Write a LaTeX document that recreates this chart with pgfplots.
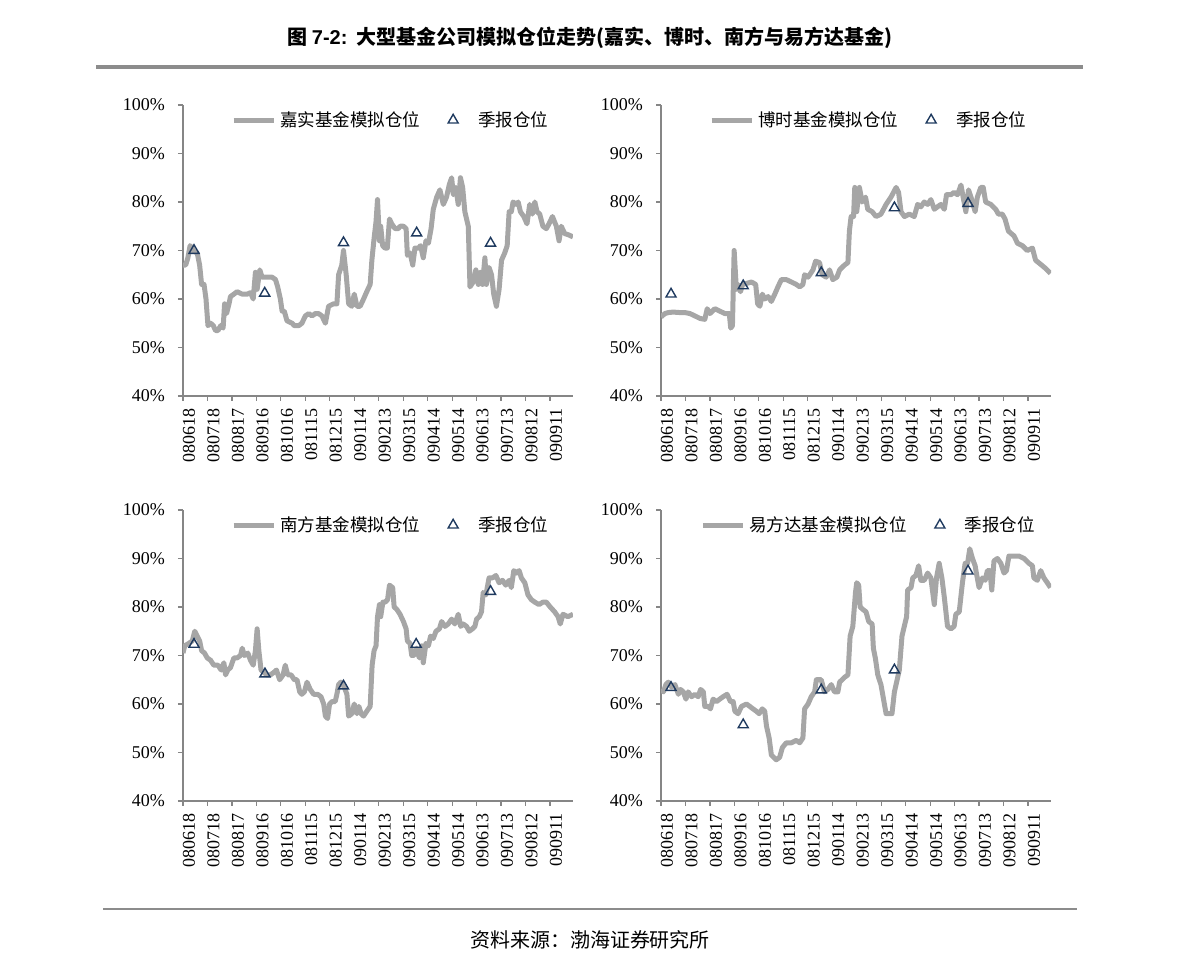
\documentclass[border=0pt]{standalone}
\usepackage{fontspec}
\setmainfont{Liberation Serif}
\newfontfamily\cjk{Noto Sans CJK SC}
\newfontfamily\hei{Liberation Sans}
\usepackage{pgfplots}
\pgfplotsset{compat=1.18}
\definecolor{lg}{HTML}{A6A6A6}
\definecolor{navy}{HTML}{1F3A5F}
\definecolor{ax}{HTML}{868686}
\definecolor{rule}{HTML}{8C8C8C}
\pgfplotsset{
 panel/.style={
  scale only axis, width=195pt, height=145.5pt,
  xmin=0, xmax=15.94, ymin=40, ymax=100,
  axis x line*=bottom, axis y line*=left,
  axis line style={draw=ax, line width=0.6pt},
  tick style={draw=ax, line width=0.6pt},
  tick align=outside, major tick length=2.5pt,
  xtick={0,...,15},
  xticklabels={080618,080718,080817,080916,081016,081115,081215,090114,090213,090315,090414,090514,090613,090713,090812,090911},
  xticklabel style={rotate=90, anchor=east, yshift=-3pt, font=\fontsize{9}{10}\selectfont},
  ytick={40,50,60,70,80,90,100},
  yticklabels={40\%,50\%,60\%,70\%,80\%,90\%,100\%},
  yticklabel style={xshift=-3pt, font=\fontsize{9}{10}\selectfont},
  legend style={draw=none, fill=none, at={(0.535,0.948)}, anchor=center,
    font=\cjk\fontsize{8.75}{10}\selectfont,
    /tikz/every even column/.append style={column sep=6pt}},
  legend columns=2,
  legend cell align=left,
 },
 fund/.style={lg, line width=2.5pt, line join=round,
   legend image code/.code={\draw[##1] (0pt,0pt) -- (20pt,0pt);}},
 quarter/.style={only marks, mark=triangle, mark size=2.9pt,
   mark options={draw=navy, fill=white, line width=0.7pt},
   legend image code/.code={\path[draw=none,fill=none] (0pt,-2pt) rectangle (19pt,2pt);
     \draw[##1] plot coordinates {(8.5pt,0pt)};}},
}
\begin{document}
\begin{tikzpicture}
\useasboundingbox (0,0) rectangle (595.5pt,486.5pt);
\node at (295pt,467.5pt) {\cjk\bfseries\fontsize{10}{12}\selectfont 图 {\hei\bfseries 7-2:}\ \ 大型基金公司模拟仓位走势(嘉实、博时、南方与易方达基金)};
\draw[rule, line width=1.8pt] (48pt,453pt) -- (541.5pt,453pt);
\draw[rule, line width=1.2pt] (51.5pt,32pt) -- (538.5pt,32pt);
\node at (295pt,16.5pt) {\cjk\fontsize{10}{12}\selectfont 资料来源：渤海证券研究所};

% Panel 1
\begin{axis}[panel, at={(91.5pt,288.5pt)}, anchor=south west]
\addplot[fund] table {
0 67
0.11 67
0.20 68.5
0.29 71
0.38 70.5
0.45 69.8
0.58 69.5
0.68 67
0.76 63
0.86 63
0.94 60
1.02 54.5
1.13 55
1.24 54.5
1.33 53.5
1.43 53.5
1.54 54.5
1.64 54
1.70 59
1.78 57
1.88 59
1.94 60.5
2.08 61
2.21 61.5
2.42 61
2.62 61
2.76 61.3
2.87 60
2.96 65.5
3.03 62
3.14 66
3.23 64.5
3.44 64.5
3.64 64.5
3.78 64
3.87 62.5
3.98 60
4.05 57.5
4.14 57.5
4.25 55.5
4.46 55
4.55 54.5
4.73 54.5
4.86 55
5.00 56.5
5.14 57
5.27 56.5
5.41 57
5.54 57
5.68 56.5
5.82 55
5.95 58.5
6.15 59
6.29 59
6.36 65
6.49 67
6.56 70
6.67 65
6.77 59
6.90 58.5
7.00 61
7.11 58.5
7.24 58.5
7.38 60
7.51 61.5
7.65 63
7.72 68
7.81 72.5
7.89 76
7.95 80.5
8.03 72
8.08 75
8.16 71
8.26 70.5
8.35 70.5
8.44 76.5
8.53 75.5
8.67 74.5
8.80 74.5
8.87 75
9.01 75
9.12 74.5
9.17 69
9.28 69.5
9.39 67
9.48 70.5
9.62 70.5
9.71 71
9.82 68.5
9.93 72
10.03 71.5
10.14 74.5
10.23 78.5
10.37 81
10.50 82.5
10.64 79.5
10.77 81
10.88 83.5
10.98 85
11.05 81.5
11.15 83
11.25 79.5
11.34 85
11.43 83
11.52 78
11.66 75
11.73 62.5
11.86 63.5
11.97 66
12.07 63
12.16 65.5
12.24 63
12.34 68.5
12.40 63
12.51 66.5
12.61 65
12.70 61
12.81 58.5
12.92 62
13.02 68
13.15 69.5
13.25 71
13.33 78
13.42 78
13.49 80
13.63 79.5
13.70 80
13.79 78
13.93 77
14.06 75.5
14.17 79.5
14.28 77.5
14.38 80
14.47 78
14.58 77.5
14.71 75
14.85 74.5
14.96 75.5
15.10 77
15.26 75
15.37 72
15.46 75
15.60 73.5
15.77 73.2
15.94 72.8
};
\addlegendentry{嘉实基金模拟仓位}
\addplot[quarter] table {
0.45 70.0
3.34 61.2
6.56 71.6
9.55 73.6
12.57 71.5
};
\addlegendentry{季报仓位}
\end{axis}

% Panel 2
\begin{axis}[panel, at={(330.5pt,288.5pt)}, anchor=south west]
\addplot[fund] table {
0 56.3
0.16 57
0.30 57.2
0.50 57.3
0.77 57.2
0.98 57.2
1.18 57
1.39 56.5
1.59 56
1.79 55.8
1.89 58
2.00 57
2.20 58
2.40 57.5
2.61 57
2.79 57
2.85 54
2.92 54.5
2.99 70
3.08 62
3.15 63
3.25 61.5
3.33 63
3.49 63.2
3.70 63.5
3.87 63
3.95 59
4.04 58.5
4.14 61
4.24 60
4.38 60.5
4.51 59.5
4.65 61
4.78 62.5
4.92 64
5.12 64
5.33 63.5
5.53 63
5.67 62.5
5.80 63
5.87 65
6.01 64.5
6.21 66
6.32 67.8
6.48 67.5
6.59 65
6.75 64.5
6.89 66
7.02 64
7.19 64.5
7.30 66
7.50 67
7.64 67.5
7.70 74
7.77 77
7.87 77
7.92 83
8.00 78
8.11 83
8.22 80
8.36 81
8.45 78.5
8.63 78
8.79 77
8.99 77.5
9.20 79.5
9.40 81
9.61 83
9.71 82
9.81 78
9.95 77
10.15 77.5
10.35 77
10.49 79.5
10.62 79
10.76 80
10.90 79.5
11.03 80.5
11.17 78.5
11.30 79
11.44 79.5
11.58 78.5
11.67 81.5
11.85 81.5
11.98 82
12.12 81.5
12.26 83.5
12.35 81
12.46 78
12.57 82.5
12.70 80.5
12.84 78
12.93 81
13.07 83
13.17 83
13.27 80
13.48 79.5
13.68 78.5
13.79 77.5
13.95 77.5
14.06 76.5
14.20 74
14.43 73
14.57 71.5
14.77 71
14.97 70
15.18 70.5
15.31 68
15.48 67.3
15.72 66.3
15.92 65.3
};
\addlegendentry{博时基金模拟仓位}
\addplot[quarter] table {
0.41 61.0
3.36 62.7
6.55 65.4
9.54 78.8
12.55 79.7
};
\addlegendentry{季报仓位}
\end{axis}

% Panel 3
\begin{axis}[panel, at={(91.5pt,86pt)}, anchor=south west]
\addplot[fund] table {
0 70.5
0.07 72
0.24 72.5
0.38 73
0.48 75
0.58 74
0.68 73
0.76 71
0.88 70.5
0.99 69.5
1.13 69
1.26 68
1.43 68
1.56 67
1.67 68.5
1.74 66
1.83 67
1.94 67.5
2.08 69.5
2.21 69.5
2.35 70
2.42 71.5
2.51 70
2.65 70.5
2.76 69
2.87 68
2.96 71
3.03 75.5
3.10 71
3.19 67
3.30 66.5
3.44 66
3.57 66
3.71 66.5
3.82 67
3.95 65
4.09 66
4.18 68
4.28 66
4.42 66
4.55 65
4.66 65
4.77 62.5
4.86 62
4.96 62.5
5.07 64.5
5.20 63
5.34 62
5.50 62
5.64 61.5
5.75 60
5.82 57.5
5.91 57
5.99 60
6.09 60.5
6.22 60.5
6.29 62
6.36 64
6.45 64.5
6.59 63.5
6.70 62
6.77 57.5
6.90 58
7.00 60
7.11 58
7.19 59.5
7.28 58
7.38 57.5
7.51 58.5
7.65 59.5
7.73 68
7.81 71
7.89 72
7.95 78
8.03 80.5
8.08 78
8.17 81
8.26 81
8.36 81.5
8.44 84.5
8.57 84
8.63 80
8.74 79.5
8.87 78.5
9.01 77
9.12 75.5
9.17 73
9.28 72.5
9.35 70
9.44 70
9.55 71.5
9.66 69.5
9.76 72
9.82 68.5
9.93 72.5
10.03 72
10.12 74
10.23 73.5
10.34 75
10.48 75.5
10.57 77
10.71 76
10.84 76.5
10.98 77.5
11.11 76.5
11.25 78.5
11.35 76
11.45 76.5
11.59 76
11.70 75
11.83 75.5
11.93 76
12.00 77.5
12.11 78
12.20 79
12.27 83
12.38 82.5
12.51 86
12.65 86
12.79 86.5
12.92 85
13.06 85.5
13.19 84.5
13.33 85.5
13.42 84
13.52 87.5
13.63 87
13.74 87.5
13.83 86
13.97 85
14.10 82.5
14.24 81.5
14.38 81
14.55 80.5
14.71 81
14.85 81
15.01 80
15.19 79
15.33 78
15.42 76.5
15.53 78.5
15.73 78
15.94 78.5
};
\addlegendentry{南方基金模拟仓位}
\addplot[quarter] table {
0.45 72.3
3.35 66.2
6.56 63.7
9.53 72.3
12.57 83.2
};
\addlegendentry{季报仓位}
\end{axis}

% Panel 4
\begin{axis}[panel, at={(330.5pt,86pt)}, anchor=south west]
\addplot[fund] table {
0 63
0.10 62.5
0.20 64
0.30 64.5
0.43 63.5
0.57 64
0.71 62
0.80 63
0.91 62.5
1.02 61
1.11 62.5
1.25 61.5
1.39 62
1.52 61.5
1.62 63
1.73 62.5
1.79 59.5
1.93 59.5
2.02 59
2.13 61
2.27 60.5
2.40 61
2.54 61.5
2.70 62
2.84 60.5
2.95 60.5
3.02 58.5
3.15 58
3.29 59.5
3.49 60
3.63 59.5
3.76 59
3.90 58.5
4.01 58
4.14 59
4.24 58.5
4.31 55.5
4.42 53
4.51 49.5
4.61 49
4.71 48.5
4.85 49
4.96 51
5.12 52
5.33 52
5.53 52.5
5.67 52
5.80 53
5.87 59
6.01 60
6.14 61.5
6.28 62.5
6.35 65
6.55 65
6.68 62.5
6.82 63
6.96 64
7.09 62.5
7.23 62.5
7.30 64.5
7.50 65.5
7.64 66
7.73 74
7.84 76
7.95 83
8.00 85
8.08 84.5
8.14 80
8.25 79.5
8.38 79
8.49 77
8.63 76.5
8.68 71.5
8.76 69.5
8.86 66
8.99 64
9.13 60
9.20 58
9.33 58
9.44 58
9.54 62.5
9.63 64.5
9.74 67
9.85 74
9.99 77
10.04 78
10.08 83.5
10.22 84
10.29 86
10.42 86.5
10.53 88.5
10.62 85.5
10.76 85.5
10.90 87
11.03 86
11.17 80.5
11.26 86
11.37 89
11.48 86
11.58 82
11.71 76
11.85 75.5
11.98 76
12.05 78.5
12.19 79
12.32 85
12.43 89
12.53 89
12.62 92
12.73 90
12.84 88.5
12.89 87
13.00 84
13.14 86
13.25 85.5
13.34 87.5
13.44 87.5
13.52 83.5
13.61 89.5
13.75 90
13.89 89
14.02 87
14.12 87.5
14.22 90.5
14.43 90.5
14.63 90.5
14.84 90
15.04 89
15.18 88.5
15.24 86
15.38 85.5
15.52 87.5
15.65 86
15.79 85
15.92 84
};
\addlegendentry{易方达基金模拟仓位}
\addplot[quarter] table {
0.41 63.4
3.36 55.7
6.55 62.9
9.54 67.0
12.55 87.4
};
\addlegendentry{季报仓位}
\end{axis}
\end{tikzpicture}
\end{document}
